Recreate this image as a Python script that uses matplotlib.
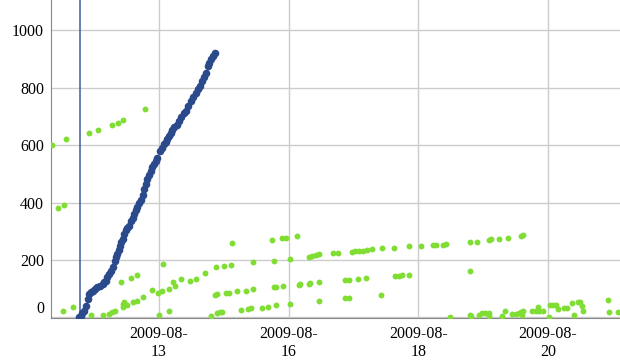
import matplotlib
matplotlib.use("Agg")
import matplotlib.pyplot as plt

# x is measured in tick steps from the 2009-08-13 gridline
tick_pos = [0, 1, 2, 3]
tick_labels = ["2009-08-\n13", "2009-08-\n16", "2009-08-\n18", "2009-08-\n20"]
y_ticks = [0, 200, 400, 600, 800, 1000]
marker_t = -0.610

blue_t = [-0.613, -0.600, -0.588, -0.575, -0.562, -0.548, -0.536, -0.523, -0.510, -0.490,
          -0.472, -0.452, -0.433, -0.420, -0.408, -0.395, -0.382, -0.369, -0.356, -0.338,
          -0.328, -0.318, -0.308, -0.298, -0.288, -0.279, -0.267, -0.255, -0.241, -0.228,
          -0.210, -0.200, -0.190, -0.177, -0.164, -0.150, -0.138, -0.125, -0.113, -0.100,
          -0.087, -0.075, -0.062, -0.049, -0.036, -0.023, -0.010, 0.010, 0.025, 0.041,
          0.054, 0.067, 0.080, 0.092, 0.105, 0.118, 0.137, 0.156, 0.175, 0.195,
          0.208, 0.227, 0.246, 0.265, 0.285, 0.300, 0.318, 0.336, 0.350, 0.362,
          0.379, 0.390, 0.400, 0.415, 0.431]
blue_y = [2, 6, 15, 24, 41, 64, 82, 88, 93, 99,
          105, 111, 117, 122, 128, 140, 151, 163, 175, 198,
          210, 221, 236, 250, 262, 273, 290, 305, 312, 319,
          337, 348, 360, 373, 386, 398, 409, 428, 447, 465,
          482, 497, 511, 523, 534, 546, 557, 580, 592, 603,
          612, 621, 633, 644, 653, 662, 672, 683, 697, 711,
          719, 736, 754, 768, 783, 795, 806, 824, 838, 853,
          876, 888, 899, 912, 922]

green_t = [-0.825, -0.715, -0.536, -0.467, -0.362, -0.313, -0.275, -0.105,
           -0.779, -0.733,
           -0.741, -0.659, -0.523, -0.433, -0.385, -0.362, -0.338,
           -0.287, -0.215, -0.169, 0.036, 0.438, 0.502, 0.559, 0.567, 0.875, 0.952, 0.977, 1.062,
           -0.279, -0.267, -0.279, -0.241, -0.202, -0.169, -0.118, -0.048, -0.005, 0.028,
           0.079, 0.113, 0.125, 0.175, 0.241, 0.285, 0.354, 0.431, 0.452, 0.521,
           0.544, 0.600, 0.669, 0.728, 0.725, 0.887, 0.887, 0.900, 0.954, 1.012,
           1.079, 1.092, 1.156, 1.169, 1.233, 1.438, 1.464, 1.536, 1.600, 1.823,
           1.848, 1.875, 1.925,
           1.156, 1.182, 1.208, 1.233, 1.341, 1.379, 1.490, 1.515, 1.546, 1.577,
           1.605, 1.644, 1.721, 1.815, 1.925, 2.021, 2.110, 2.136, 2.187, 2.213,
           2.400, 2.456, 2.548, 2.562, 2.623, 2.690, 2.790, 2.810,
           2.395, 1.713, 1.438, 1.464, 1.233, 1.008, 0.900, 0.844, 0.792, 0.713,
           0.690, 0.631, 0.490, 0.472, 0.452, 0.400, 0.079, 0.002,
           2.246, 2.400, 2.405, 2.464, 2.490, 2.515, 2.541, 2.548, 2.644, 2.669,
           2.725, 2.751, 2.777, 2.790, 2.805, 2.798, 2.879, 2.905, 2.920, 2.933,
           2.964, 3.010, 3.015, 3.036, 3.062, 3.079, 3.123, 3.149, 3.182, 3.200,
           3.233, 3.246, 3.264, 3.272, 3.464, 3.472, 3.541]
green_y = [600, 621, 644, 652, 670, 679, 688, 725,
           381, 391,
           22, 38, 10, 9, 12, 20, 24,
           122, 139, 148, 185, 175, 180, 184, 258, 270, 277, 278, 282,
           47, 55, 38, 43, 55, 58, 70, 97, 84, 92,
           99, 122, 111, 134, 128, 134, 155, 78, 82, 85,
           86, 91, 92, 98, 192, 198, 105, 106, 109, 205,
           114, 115, 118, 119, 125, 129, 130, 135, 138, 145,
           145, 147, 149,
           211, 214, 216, 221, 224, 224, 229, 230, 231, 233,
           235, 237, 241, 242, 248, 250, 251, 252, 253, 255,
           262, 264, 271, 272, 273, 278, 282, 287,
           161, 79, 67, 68, 58, 47, 43, 37, 34, 32,
           30, 27, 19, 18, 16, 6, 24, 9,
           3, 10, 4, 10, 15, 15, 4, 15, 6, 24,
           12, 12, 15, 18, 22, 10, 22, 22, 35, 24,
           24, 3, 43, 45, 45, 30, 32, 33, 49, 9,
           53, 55, 39, 24, 61, 20, 20]

plt.rcParams["font.family"] = "Liberation Serif"

fig = plt.figure(figsize=(6.2, 3.62), dpi=100)
ax = fig.add_axes([51 / 620, 44 / 362, 569 / 620, 318 / 362])

ax.set_xlim(-0.830, 3.554)
ax.set_ylim(-2, 1106)

ax.scatter(green_t, green_y, s=18, color="#80dd33", linewidths=0, zorder=3)
ax.scatter(blue_t, blue_y, s=30, color="#2b4a8c", linewidths=0, zorder=4)
ax.axvline(marker_t, color="#3f5e9e", lw=1.1, zorder=2)

ax.set_xticks(tick_pos)
ax.set_xticklabels(tick_labels, fontsize=11.5, linespacing=1.1)
ax.set_yticks(y_ticks)
ax.set_yticklabels([str(v) for v in y_ticks], fontsize=11.5)
ax.get_yticklabels()[0].set_va("bottom")
ax.tick_params(length=0)
ax.tick_params(axis="x", pad=6)
ax.tick_params(axis="y", pad=5)

ax.grid(True, color="#cccccc", lw=1)
ax.set_axisbelow(True)
for side in ["top", "right"]:
    ax.spines[side].set_visible(False)
ax.spines["left"].set_color("#888888")
ax.spines["bottom"].set_color("#888888")

fig.savefig("out.png", dpi=100)
